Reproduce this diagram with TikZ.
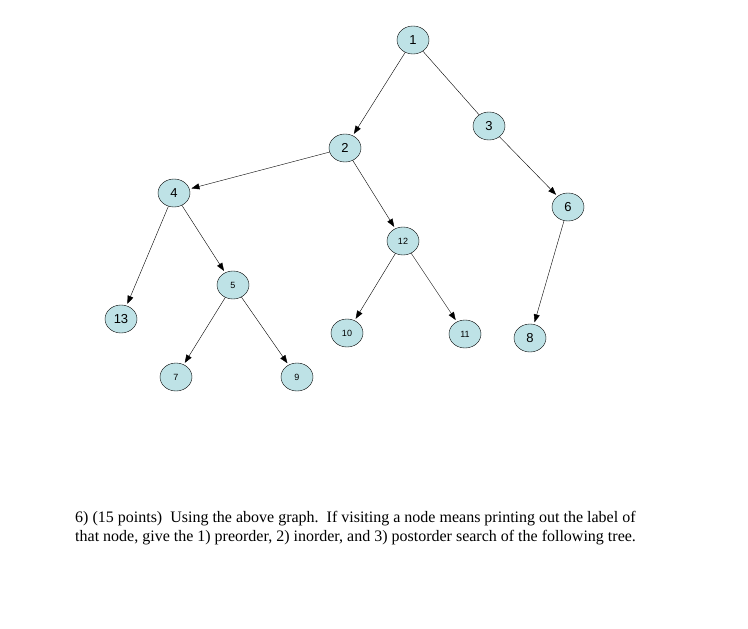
\documentclass[tikz,border=0pt]{standalone}
\usepackage{fontspec}
\setmainfont{Liberation Serif}
\newfontfamily\arialf{Liberation Sans}
\usetikzlibrary{shapes.geometric,arrows.meta,decorations.pathmorphing}
\begin{document}
\begin{tikzpicture}[x=1pt,y=-1pt,
  tn/.style={ellipse,draw=black,fill={rgb,255:red,190;green,226;blue,230},minimum width=32pt,minimum height=28pt,inner sep=0pt,font=\arialf\fontsize{13}{13}\selectfont},
  sm/.style={font=\arialf\fontsize{9}{9}\selectfont},
  ar/.style={-{Triangle[length=8pt,width=6pt]},shorten >=2pt}]
\useasboundingbox (0,0) rectangle (748,629);
\node[tn] (n1) at (413,40) {1};
\node[tn] (n3) at (489,126) {3};
\node[tn] (n2) at (345,148) {2};
\node[tn] (n4) at (174,193) {4};
\node[tn] (n6) at (568,207) {6};
\node[tn,sm] (n12) at (403,241) {12};
\node[tn,sm] (n5) at (233,285) {5};
\node[tn] (n13) at (121,319) {13};
\node[tn,sm] (n10) at (347,333) {10};
\node[tn,sm] (n11) at (465,334) {11};
\node[tn] (n8) at (530,338) {8};
\node[tn,sm] (n7) at (176,377) {7};
\node[tn,sm] (n9) at (297,377) {9};
\draw[ar] (n1) -- (n2);
\draw (n1) -- (n3);
\draw[ar] (n3) -- (n6);
\draw[ar] (n2) -- (n4);
\draw[ar] (n2) -- (n12);
\draw[ar] (n4) -- (n13);
\draw[ar] (n4) -- (n5);
\draw[ar] (n5) -- (n7);
\draw[ar] (n5) -- (n9);
\draw[ar] (n12) -- (n10);
\draw[ar] (n12) -- (n11);
\draw[ar] (n6) -- (n8);
\node[anchor=west,font=\fontsize{16}{16}\selectfont,inner sep=0pt] (t1) at (75,519) {6) (15 points)\ \ Using the above graph.\ \ If visiting a node means printing out the label of};
\node[anchor=west,font=\fontsize{16}{16}\selectfont,inner sep=0pt] (t2) at (75,538) {that node, give the 1) preorder, 2) inorder, and 3) postorder search of the following tree.};
\end{tikzpicture}
\end{document}
